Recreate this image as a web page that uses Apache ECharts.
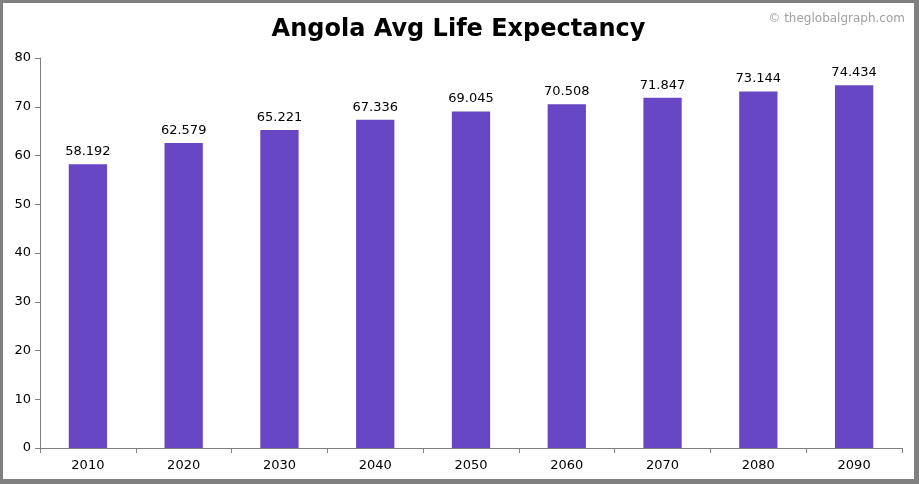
<!DOCTYPE html>
<html><head><meta charset="utf-8">
<script src="https://cdn.jsdelivr.net/npm/echarts@6/dist/echarts.min.js"></script>
<style>
html,body{margin:0;padding:0;background:#fff;}
#wrap{width:919px;height:484px;box-sizing:border-box;border-left:3px solid #808080;border-top:3px solid #808080;border-right:5px solid #808080;border-bottom:5px solid #808080;}
#chart{width:911px;height:476px;}
</style></head>
<body><div id="wrap"><div id="chart"></div></div>
<script>
const categories = ['2010','2020','2030','2040','2050','2060','2070','2080','2090'];
const lifeExpectancy = [58.192,62.579,65.221,67.336,69.045,70.508,71.847,73.144,74.434];
const yTicks = [0,10,20,30,40,50,60,70,80];
const font = 'DejaVu Sans, Verdana, sans-serif';
const chart = echarts.init(document.getElementById('chart'));
chart.setOption({
  animation:false,
  title:[{text:'Angola Avg Life Expectancy',left:'center',top:10,textStyle:{fontFamily:font,fontSize:24,fontWeight:'bold',color:'#000'}},
         {text:'© theglobalgraph.com',right:4,top:5,textStyle:{fontFamily:font,fontSize:12,fontWeight:'normal',color:'#a0a0a0'}}],
  grid:{left:37,right:12,top:55,bottom:31,containLabel:false},
  xAxis:{type:'category',data:categories,boundaryGap:true,
    axisLine:{lineStyle:{color:'#808080',width:1}},
    axisTick:{show:true,alignWithLabel:false,length:5,lineStyle:{color:'#808080'}},
    axisLabel:{fontFamily:font,fontSize:13,color:'#000',margin:11}},
  yAxis:{type:'value',min:yTicks[0],max:yTicks[yTicks.length-1],interval:10,
    splitLine:{show:false},
    axisLine:{show:true,lineStyle:{color:'#808080',width:1}},
    axisTick:{show:true,length:5,lineStyle:{color:'#808080'}},
    axisLabel:{fontFamily:font,fontSize:13,color:'#000',margin:9}},
  series:[{type:'bar',data:lifeExpectancy,barWidth:'40%',itemStyle:{color:'#6847c4'},
    label:{show:true,position:'top',distance:6,fontFamily:font,fontSize:13,color:'#000'}}]
});
</script></body></html>
